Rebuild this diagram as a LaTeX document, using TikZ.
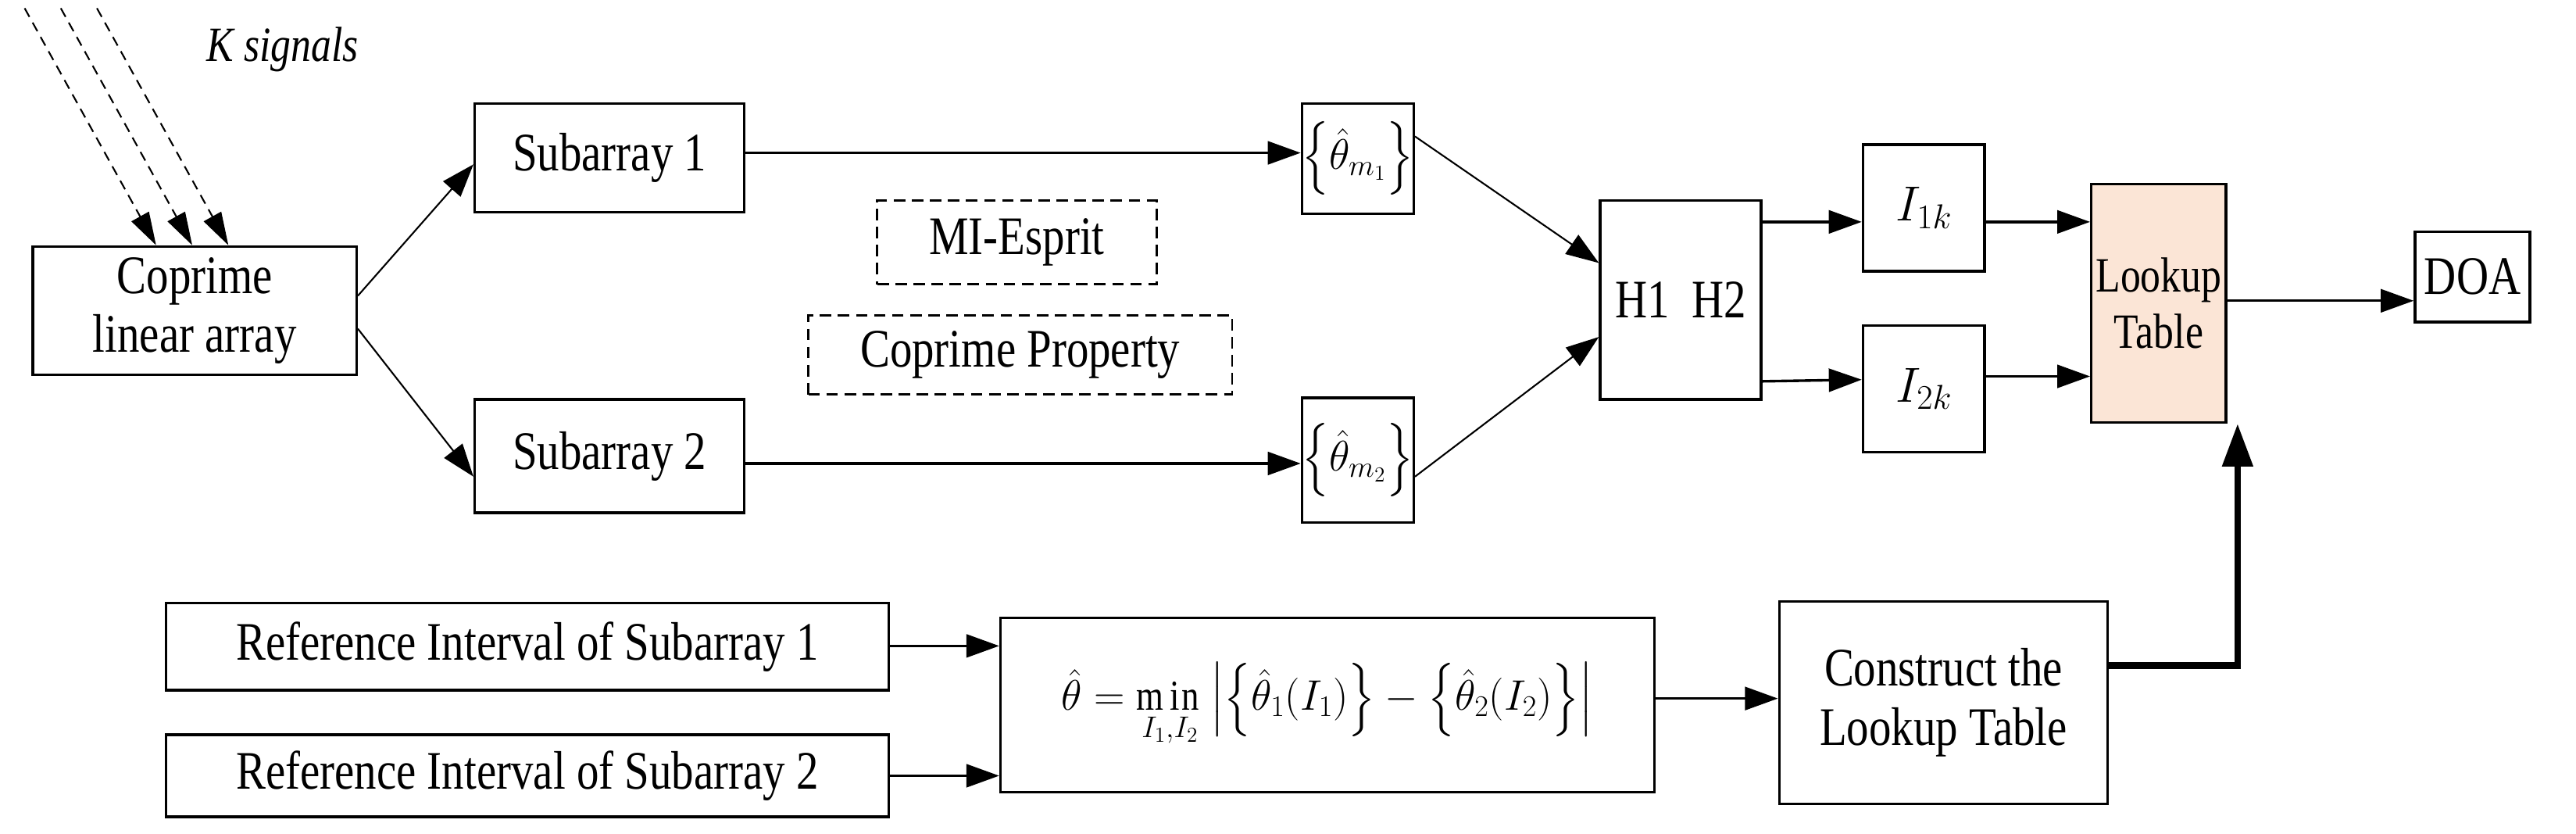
\RequirePackage{fix-cm}
\documentclass[tikz,border=0pt]{standalone}
\usepackage{amsmath}
\usepackage{fontspec}
\setmainfont[FakeStretch=0.82]{Liberation Serif}
\usetikzlibrary{arrows.meta}
\begin{document}
\begin{tikzpicture}[x=1pt,y=-1pt,
  box/.style={draw,line width=1.6pt,inner sep=0pt,align=center,font=\fontsize{33}{36}\selectfont},
  dbox/.style={box,dash pattern=on 7pt off 4pt,line width=1.3pt},
  arr/.style={line width=1.6pt,-{Triangle[length=20pt,width=14pt]}},
  darr/.style={line width=1pt,dash pattern=on 6pt off 4pt,-{Triangle[length=20pt,width=12pt]}}]
\useasboundingbox (0,0) rectangle (1568,507);
\node[box,minimum width=197pt,minimum height=78pt] (cla) at (118.5,189) {Coprime\\linear array};
\node[box,minimum width=164pt,minimum height=66pt] (s1) at (371,96) {Subarray 1};
\node[box,minimum width=164pt,minimum height=69pt] (s2) at (371,277.5) {Subarray 2};
\node[dbox,minimum width=170pt,minimum height=51pt] (mi) at (619,147.5) {MI-Esprit};
\node[dbox,minimum width=258pt,minimum height=48pt] (cp) at (621,216) {Coprime Property};
\node[box,minimum width=63pt,minimum height=67pt,font=\fontsize{26}{30}\selectfont] (t1) at (826.5,96.5) {$\left\{\hat{\theta}_{m_1}\right\}$};
\node[box,minimum width=63pt,minimum height=76pt,font=\fontsize{26}{30}\selectfont] (t2) at (826.5,280) {$\left\{\hat{\theta}_{m_2}\right\}$};
\node[box,minimum width=98pt,minimum height=121pt] (h) at (1023,182.5) {H1\ \ H2};
\node[box,minimum width=74pt,minimum height=77pt,font=\fontsize{30}{33}\selectfont] (i1) at (1171,126.5) {$I_{1k}$};
\node[box,minimum width=74pt,minimum height=77pt,font=\fontsize{30}{33}\selectfont] (i2) at (1171,236.5) {$I_{2k}$};
\node[box,fill={rgb,255:red,251;green,229;blue,214},minimum width=82pt,minimum height=145pt,font=\fontsize{30}{34}\selectfont] (lt) at (1314,184.5) {Lookup\\Table};
\node[box,minimum width=70pt,minimum height=55pt] (doa) at (1505,168.5) {DOA};
\node[box,minimum width=440pt,minimum height=53pt] (r1) at (321,393.5) {Reference Interval of Subarray 1};
\node[box,minimum width=440pt,minimum height=50pt] (r2) at (321,472) {Reference Interval of Subarray 2};
\node[box,minimum width=398pt,minimum height=106pt,font=\fontsize{26}{30}\selectfont] (f) at (808,429) {$\hat{\theta}=\min\limits_{I_1,I_2}\left|\left\{\hat{\theta}_1(I_1)\right\}-\left\{\hat{\theta}_2(I_2)\right\}\right|$};
\node[box,minimum width=200pt,minimum height=123pt] (c) at (1183,427.5) {Construct the\\Lookup Table};
\node[font=\itshape\fontsize{30}{33}\selectfont] (ks) at (172,30) {K signals};
\coordinate (k1) at (15,5); \coordinate (k2) at (37,5); \coordinate (k3) at (59,5);
\draw[darr] (k1) -- (cla.north west -| 95,150);
\draw[darr] (k2) -- (cla.north west -| 117,150);
\draw[darr] (k3) -- (cla.north west -| 139,150);
\draw[arr,line width=1pt] (cla.east |- 0,180) -- (s1.west |- 0,100);
\draw[arr,line width=1pt] (cla.east |- 0,200) -- (s2.west |- 0,290);
\draw[arr] (s1.east |- 0,93) -- (t1.west |- 0,93);
\draw[arr] (s2.east |- 0,282) -- (t2.west |- 0,282);
\draw[arr,line width=1pt] (t1.east |- 0,83) -- (h.west |- 0,160);
\draw[arr,line width=1pt] (t2.east |- 0,290) -- (h.west |- 0,205);
\draw[arr] (h.east |- 0,135) -- (i1.west |- 0,135);
\draw[arr] (h.east |- 0,232) -- (i2.west |- 0,231);
\draw[arr] (i1.east |- 0,135) -- (lt.west |- 0,135);
\draw[arr] (i2.east |- 0,229) -- (lt.west |- 0,229);
\draw[arr] (lt.east |- 0,183) -- (doa.west |- 0,183);
\draw[arr] (r1.east |- 0,393) -- (f.west |- 0,393);
\draw[arr] (r2.east |- 0,472) -- (f.west |- 0,472);
\draw[arr] (f.east |- 0,425) -- (c.west |- 0,425);
\draw[line width=4pt,-{Triangle[length=26pt,width=18pt]}] (c.east |- 0,405) -- (1362,405) -- (lt.south -| 1362,0);
\end{tikzpicture}
\end{document}
